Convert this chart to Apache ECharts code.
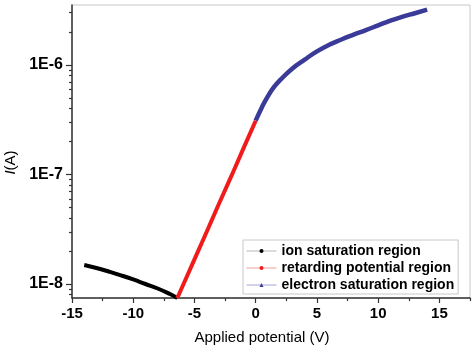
<!DOCTYPE html>
<html>
<head>
<meta charset="utf-8">
<script src="https://cdn.jsdelivr.net/npm/echarts@6/dist/echarts.min.js"></script>
<style>
  html, body { margin: 0; padding: 0; background: #fff; }
  #chart { width: 474px; height: 351px; }
</style>
</head>
<body>
<div id="chart"></div>
<script>
// Probe characteristic: applied potential (V) and current I (A)
const ionVoltage = [-14, -13, -12, -11, -10, -9, -8, -7, -6.4];
const ionCurrent = [1.49e-8, 1.40e-8, 1.30e-8, 1.20e-8, 1.10e-8, 1.00e-8, 9.1e-9, 8.1e-9, 7.45e-9];

const retardVoltage = [-6.4, -6, -5, -4, -3, -2, -1, 0];
const retardCurrent = [7.45e-9, 9.4e-9, 1.68e-8, 3.0e-8, 5.4e-8, 9.6e-8, 1.73e-7, 3.1e-7];

const electronVoltage = [0, 0.5, 1, 1.5, 2, 3, 4, 5, 6, 7, 8, 9, 10, 11, 12, 13, 14];
const electronCurrent = [3.1e-7, 4.1e-7, 5.2e-7, 6.3e-7, 7.3e-7, 9.3e-7, 1.12e-6, 1.33e-6, 1.53e-6,
  1.71e-6, 1.89e-6, 2.08e-6, 2.30e-6, 2.54e-6, 2.76e-6, 2.97e-6, 3.20e-6];

const seriesNames = ['ion saturation region', 'retarding potential region', 'electron saturation region'];

// Axis ticks
const xMajorTicks = [-15, -10, -5, 0, 5, 10, 15];
const xMinorTicks = [-12.5, -7.5, -2.5, 2.5, 7.5, 12.5, 17.5];
const yMajorTicks = [1e-8, 1e-7, 1e-6];
const yMinorTicks = [8e-9, 9e-9, 2e-8, 3e-8, 4e-8, 5e-8, 6e-8, 7e-8, 8e-8, 9e-8,
  2e-7, 3e-7, 4e-7, 5e-7, 6e-7, 7e-7, 8e-7, 9e-7, 2e-6, 3e-6];

const FONT = 'Liberation Sans, Arial, sans-serif';
const yMin = Math.log10(7.45e-9);
const yMax = Math.log10(3.53e-6);

function toPoints(volts, amps) {
  const result = [];
  for (let i = 0; i < volts.length; i++) {
    result.push([volts[i], Math.log10(amps[i])]);
  }
  return result;
}

const chart = echarts.init(document.getElementById('chart'));

const tickStyle = { color: '#333', width: 1.2 };

const option = {
  animation: false,
  backgroundColor: '#fff',
  grid: {
    left: 72, right: 4, top: 5, bottom: 53,
    show: true, borderColor: '#c8c8c8', borderWidth: 1,
    outerBoundsMode: 'none'
  },
  legend: {
    orient: 'vertical',
    left: 243, top: 240,
    padding: [3, 4, 1, 3],
    itemWidth: 30, itemHeight: 5, itemGap: 1,
    backgroundColor: '#fff',
    borderColor: '#c8c8c8', borderWidth: 1,
    textStyle: { fontFamily: FONT, fontSize: 14, fontWeight: 'bold', color: '#000', lineHeight: 16 },
    data: [
      { name: seriesNames[0], lineStyle: { color: '#b8b8b8', width: 1 } },
      { name: seriesNames[1], lineStyle: { color: '#f2a0a0', width: 1 } },
      { name: seriesNames[2], lineStyle: { color: '#a4a4d8', width: 1 } }
    ]
  },
  xAxis: [{
    type: 'value',
    min: -15, max: 17.5,
    position: 'bottom',
    axisLine: { show: true, onZero: false, lineStyle: { color: '#333', width: 1.5 } },
    splitLine: { show: false },
    axisTick: { show: true, length: 5, customValues: xMajorTicks, lineStyle: tickStyle },
    axisLabel: {
      customValues: xMajorTicks, margin: 8,
      fontFamily: FONT, fontSize: 15, fontWeight: 'bold', color: '#000'
    },
    name: 'Applied potential (V)',
    nameLocation: 'middle',
    nameGap: 32,
    nameTextStyle: { fontFamily: FONT, fontSize: 15, color: '#000', padding: [0, 18, 0, 0] }
  }, {
    type: 'value',
    min: -15, max: 17.5,
    position: 'bottom',
    axisLine: { show: false, onZero: false },
    splitLine: { show: false },
    axisTick: { show: true, length: 3, customValues: xMinorTicks, lineStyle: tickStyle },
    axisLabel: { show: false, customValues: xMinorTicks }
  }],
  yAxis: [{
    type: 'value',
    min: yMin, max: yMax,
    position: 'left',
    axisLine: { show: true, onZero: false, lineStyle: { color: '#333', width: 1.5 } },
    splitLine: { show: false },
    axisTick: { show: true, length: 6, customValues: yMajorTicks.map(Math.log10), lineStyle: tickStyle },
    axisLabel: {
      customValues: yMajorTicks.map(Math.log10), margin: 9,
      fontFamily: FONT, fontSize: 16, fontWeight: 'bold', color: '#000',
      formatter: v => '1E' + Math.round(v)
    },
    name: '{i|I}(A)',
    nameLocation: 'middle',
    nameGap: 53,
    nameTextStyle: {
      fontFamily: FONT, fontSize: 15, color: '#000', padding: [0, 22, 0, 0],
      rich: { i: { fontFamily: FONT, fontSize: 15, fontStyle: 'italic', color: '#000' } }
    }
  }, {
    type: 'value',
    min: yMin, max: yMax,
    position: 'left',
    axisLine: { show: false, onZero: false },
    splitLine: { show: false },
    axisTick: { show: true, length: 3, customValues: yMinorTicks.map(Math.log10), lineStyle: tickStyle },
    axisLabel: { show: false, customValues: yMinorTicks.map(Math.log10) }
  }],
  series: [{
    name: seriesNames[0],
    type: 'line',
    data: toPoints(ionVoltage, ionCurrent),
    smooth: true,
    symbol: 'circle', showSymbol: false,
    itemStyle: { color: '#000' },
    lineStyle: { color: '#000', width: 4 }
  }, {
    name: seriesNames[1],
    type: 'line',
    data: toPoints(retardVoltage, retardCurrent),
    symbol: 'circle', showSymbol: false,
    itemStyle: { color: '#f01c1c' },
    lineStyle: { color: '#f01c1c', width: 4 }
  }, {
    name: seriesNames[2],
    type: 'line',
    data: toPoints(electronVoltage, electronCurrent),
    smooth: true,
    symbol: 'triangle', showSymbol: false,
    itemStyle: { color: '#3a3a98' },
    lineStyle: { color: '#3a3a98', width: 4.5 }
  }]
};

chart.setOption(option);
</script>
</body>
</html>
